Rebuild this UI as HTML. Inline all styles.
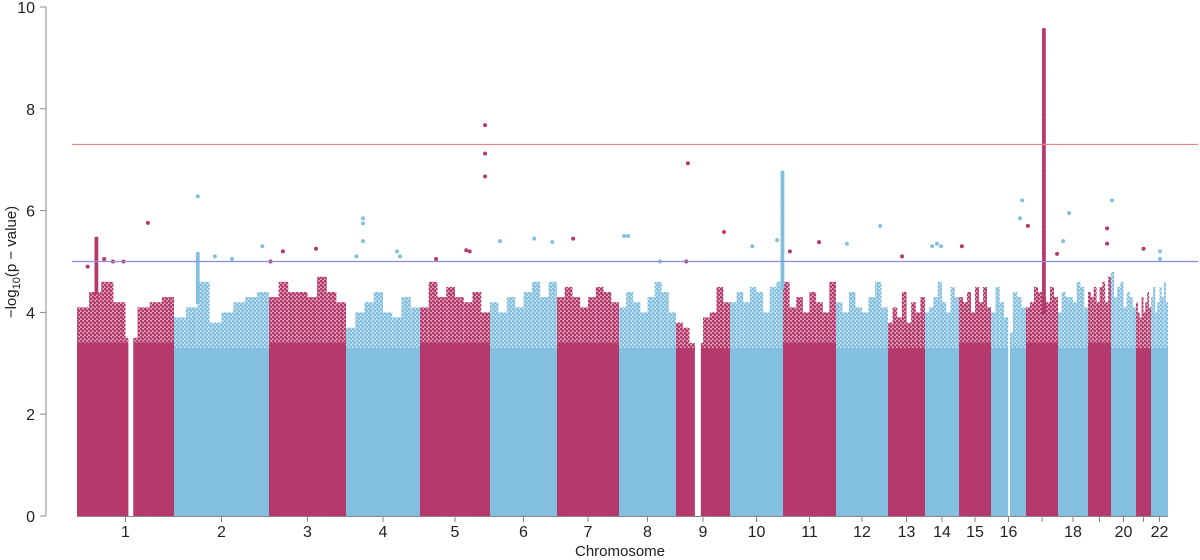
<!DOCTYPE html>
<html><head><meta charset="utf-8">
<style>
html,body{margin:0;padding:0;background:#fff;}
svg{display:block;font-family:"Liberation Sans",Arial,sans-serif;}
</style></head>
<body>
<svg id="chart" width="1200" height="560" viewBox="0 0 1200 560" xmlns="http://www.w3.org/2000/svg">
<defs>
<pattern id="pm" width="4" height="4" patternUnits="userSpaceOnUse"><rect width="4" height="4" fill="#e3b3c6"/><circle cx="1" cy="1" r="1.5" fill="#b5396b"/><circle cx="3" cy="3" r="1.5" fill="#b5396b"/></pattern>
<pattern id="pb" width="4" height="4" patternUnits="userSpaceOnUse"><rect width="4" height="4" fill="#cfe6f3"/><circle cx="1" cy="1" r="1.5" fill="#83c0e0"/><circle cx="3" cy="3" r="1.5" fill="#83c0e0"/></pattern>
</defs>
<g id="marks"></g>
<g id="axes"></g>
</svg>
<script>
const chromLabels=["1","2","3","4","5","6","7","8","9","10","11","12","13","14","15","16","17","18","19","20","21","22"];
const shownLabels=["1","2","3","4","5","6","7","8","9","10","11","12","13","14","15","16","","18","","20","","22"];
const chromLengths=[97,95,77,74,70,67,62,57,54,53,53,52,37,34,32,35,32,30,23,25,15,17];
const bulkLevel=[3.4,3.3,3.4,3.3,3.4,3.3,3.4,3.3,3.3,3.3,3.4,3.3,3.3,3.3,3.4,3.3,3.4,3.3,3.4,3.3,3.3,3.3];
const envelopes=[
[4.1,4.4,4.6,4.2,3.5,4.1,4.2,4.3],[3.9,4.1,4.6,3.8,4.0,4.2,4.3,4.4],[4.3,4.6,4.4,4.4,4.3,4.7,4.4,4.2],
[3.7,4.0,4.2,4.4,4.0,3.9,4.3,4.1],[4.1,4.6,4.3,4.5,4.3,4.2,4.4,4.0],[4.2,4.0,4.3,4.1,4.4,4.6,4.3,4.6],
[4.3,4.5,4.3,4.1,4.3,4.5,4.4,4.2],[4.1,4.4,4.2,4.0,4.3,4.6,4.4,4.0],[3.8,3.7,3.4,3.4,3.9,4.0,4.5,4.2],
[4.2,4.4,4.2,4.5,4.4,4.0,4.5,4.6],[4.6,4.1,4.3,4.0,4.4,4.2,4.0,4.6],[4.2,4.0,4.4,4.1,4.0,4.3,4.6,4.1],
[3.8,4.1,3.9,4.4,3.8,4.2,4.0,4.3],[4.0,4.1,4.3,4.6,4.2,4.0,4.5,4.3],[4.3,4.2,4.4,4.0,4.5,4.2,4.5,4.1],
[4.0,4.5,4.2,3.9,3.6,4.4,4.3,4.1],[4.1,4.2,4.5,4.4,4.3,4.2,4.5,4.3],[4.0,4.4,4.3,4.3,4.2,4.6,4.5,4.1],
[4.4,4.3,4.5,4.2,4.5,4.6,4.2,4.7],[4.8,4.3,4.5,4.6,4.1,4.4,4.3,4.1],[4.2,4.0,3.9,4.3,4.0,4.2,4.4,4.1],
[4.3,4.5,4.0,4.2,4.5,4.3,4.6,4.2]];
const gapChrom=[0,8,15];
const gapStart=[0.53,0.35,0.49];
const gapEnd=[0.58,0.46,0.54];
const colChrom=[0,1,9,16];
const colFrac=[0.20,0.25,0.99,0.56];
const colLow=[4.4,4.2,4.5,4.0];
const colHigh=[5.45,5.15,6.77,9.55];
const hitChrom=[0,0,0,0,0,1,1,1,1,2,2,2,3,3,3,3,3,3,4,4,4,4,4,4,5,5,5,6,7,7,7,8,8,8,9,9,9,10,10,11,11,12,13,13,13,14,15,15,16,16,17,17,18,18,19,21,21,20];
const hitFrac=[0.11,0.28,0.37,0.48,0.73,0.43,0.61,0.93,0.25,0.18,0.61,0.02,0.23,0.23,0.23,0.14,0.69,0.73,0.23,0.66,0.71,0.93,0.93,0.93,0.15,0.66,0.93,0.26,0.09,0.16,0.72,0.22,0.89,0.19,0.42,0.89,0.99,0.68,0.13,0.21,0.85,0.38,0.21,0.35,0.47,0.09,0.89,0.83,0.06,0.97,0.37,0.17,0.83,0.83,0.04,0.53,0.53,0.5];
const hitVal=[4.9,5.05,5.0,5.0,5.76,5.1,5.05,5.3,6.28,5.2,5.25,5.0,5.85,5.75,5.4,5.1,5.2,5.1,5.05,5.22,5.2,7.68,7.12,6.67,5.4,5.45,5.38,5.45,5.5,5.5,5.0,6.93,5.58,5.0,5.3,5.42,5.3,5.38,5.2,5.35,5.7,5.1,5.3,5.35,5.3,5.3,6.2,5.85,5.7,5.15,5.95,5.4,5.65,5.35,6.2,5.2,5.05,5.25];
const yTicks=[0,2,4,6,8,10];
const thresholds=[7.3,5.0];

const X0=77, X1=1168, Y0=516, PPU=50.9;
const total=chromLengths.reduce((a,b)=>a+b,0);
const starts=[];let acc=0;for(const l of chromLengths){starts.push(acc);acc+=l;}
function xs(c,f){return X0+(starts[c]+f*chromLengths[c])/total*(X1-X0);}
function ys(v){return Y0-v*PPU;}
const NS="http://www.w3.org/2000/svg";
const marks=document.getElementById('marks'), axes=document.getElementById('axes');
function mk(tag,attrs,parent){const e=document.createElementNS(NS,tag);for(const k in attrs)e.setAttribute(k,attrs[k]);parent.appendChild(e);return e;}
const col=c=>c%2===0?"#b5396b":"#83c0e0";
chromLabels.forEach((lab,c)=>{
  const g=mk('g',{},marks);
  
  
  const xa=xs(c,0), xb=xs(c,1);
  const env=envelopes[c], n=env.length;
  env.forEach((v,i)=>{
    const a=xs(c,i/n), b=xs(c,(i+1)/n);
    const r=mk('rect',{x:a,y:ys(v),width:b-a,height:ys(bulkLevel[c])-ys(v),fill:c%2===0?"url(#pm)":"url(#pb)"},g);
    
    
  });
  const r=mk('rect',{x:xa,y:ys(bulkLevel[c]),width:xb-xa,height:Y0-ys(bulkLevel[c]),fill:col(c)},g);
  
  
});
gapChrom.forEach((c,i)=>{
  const r=mk('rect',{x:xs(c,gapStart[i]),y:ys(5),width:xs(c,gapEnd[i])-xs(c,gapStart[i]),height:Y0-ys(5),fill:"#fff"},marks);
  
  
});
colChrom.forEach((c,i)=>{
  for(let v=colLow[i];v<=colHigh[i]+0.001;v+=0.05){
    const p=mk('circle',{cx:xs(c,colFrac[i]),cy:ys(v),r:2,fill:col(c)},marks);
    
    
  }
});
hitChrom.forEach((c,i)=>{
  const p=mk('circle',{cx:xs(c,hitFrac[i]),cy:ys(hitVal[i]),r:2,fill:col(c)},marks);
  
  
});
const tl1=mk('line',{x1:X0-5,x2:1198,y1:ys(thresholds[0]),y2:ys(thresholds[0]),stroke:"#f28080","stroke-width":1.2},axes);


const tl2=mk('line',{x1:X0-5,x2:1198,y1:ys(thresholds[1]),y2:ys(thresholds[1]),stroke:"#8a8af0","stroke-width":1.2},axes);


const ya=mk('line',{x1:46,x2:46,y1:ys(10),y2:Y0,stroke:"#888","stroke-width":1},axes);


yTicks.forEach(t=>{
  const l=mk('line',{x1:40,x2:46,y1:ys(t),y2:ys(t),stroke:"#888"},axes);
  
  
  const tx=mk('text',{x:35,y:ys(t)+6,"text-anchor":"end","font-size":16,fill:"#222"},axes);
  tx.textContent=t;
  
  
});
const xa=mk('line',{x1:X0,x2:X1,y1:Y0+0.5,y2:Y0+0.5,stroke:"#888"},axes);


chromLabels.forEach((lab,c)=>{
  const cx=xs(c,0.5);
  const l=mk('line',{x1:cx,x2:cx,y1:Y0,y2:Y0+6,stroke:"#888"},axes);
  
  
  if(shownLabels[c]){
    const tx=mk('text',{x:cx,y:Y0+21,"text-anchor":"middle","font-size":16,fill:"#222"},axes);
    tx.textContent=shownLabels[c];
    
    
  }
});
const xt=mk('text',{x:620,y:556,"text-anchor":"middle","font-size":15,fill:"#222"},axes);
xt.textContent="Chromosome";


const yt=mk('text',{x:0,y:0,"text-anchor":"middle","font-size":15,fill:"#222",transform:"translate(16,262) rotate(-90)"},axes);
yt.innerHTML='\u2212log<tspan font-size="11" dy="4">10</tspan><tspan dy="-4">(p \u2212 value)</tspan>';


</script>
</body></html>
